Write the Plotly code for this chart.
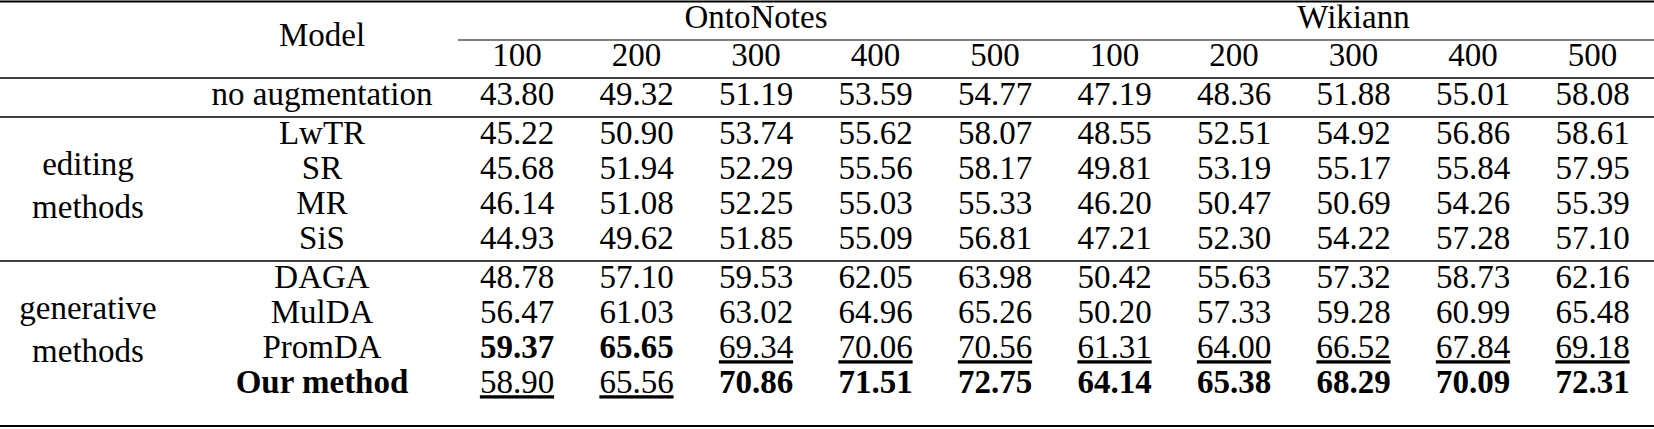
import plotly.graph_objects as go

# column headers
datasets = ["OntoNotes", "Wikiann"]
sizes = ["100", "200", "300", "400", "500"]

# row labels
models = ["no augmentation", "LwTR", "SR", "MR", "SiS",
          "DAGA", "MulDA", "PromDA", "Our method"]
groups = ["editing<br>methods", "generative<br>methods"]

# F1 scores: OntoNotes 100..500, then Wikiann 100..500
no_augmentation = [43.80, 49.32, 51.19, 53.59, 54.77, 47.19, 48.36, 51.88, 55.01, 58.08]
lwtr = [45.22, 50.90, 53.74, 55.62, 58.07, 48.55, 52.51, 54.92, 56.86, 58.61]
sr = [45.68, 51.94, 52.29, 55.56, 58.17, 49.81, 53.19, 55.17, 55.84, 57.95]
mr = [46.14, 51.08, 52.25, 55.03, 55.33, 46.20, 50.47, 50.69, 54.26, 55.39]
sis = [44.93, 49.62, 51.85, 55.09, 56.81, 47.21, 52.30, 54.22, 57.28, 57.10]
daga = [48.78, 57.10, 59.53, 62.05, 63.98, 50.42, 55.63, 57.32, 58.73, 62.16]
mulda = [56.47, 61.03, 63.02, 64.96, 65.26, 50.20, 57.33, 59.28, 60.99, 65.48]
promda = [59.37, 65.65, 69.34, 70.06, 70.56, 61.31, 64.00, 66.52, 67.84, 69.18]
our_method = [58.90, 65.56, 70.86, 71.51, 72.75, 64.14, 65.38, 68.29, 70.09, 72.31]

scores = [no_augmentation, lwtr, sr, mr, sis, daga, mulda, promda, our_method]

# --- layout (pixels) ---
W, H = 1654, 429
FONT = "Liberation Serif"
FS = 33
col_x = [517 + 119.5 * i for i in range(10)]
model_x = 322
group_x = 88
head1_y = 20
model_head_y = 38
head2_y = 58
row_y = [97, 136, 171, 206, 241, 280, 315, 350, 385]
group_y = [188.5, 332.5]
rules = [(1.5, 0, W, 2.2), (40, 458, W, 1.1), (78, 0, W, 1.3),
         (117, 0, W, 1.3), (261, 0, W, 1.3), (426, 0, W, 2.2)]


def fmt_cell(v, col):
    # best per column in bold, runner-up underlined
    ranked = sorted({s[col] for s in scores}, reverse=True)
    txt = "%.2f" % v
    if v == ranked[0]:
        return "<b>" + txt + "</b>"
    if v == ranked[1]:
        return "<u>" + txt + "</u>"
    return txt


fig = go.Figure()

for r, (name, vals) in enumerate(zip(models, scores)):
    label = "<b>" + name + "</b>" if name == "Our method" else name
    fig.add_trace(go.Scatter(
        x=[model_x] + col_x,
        y=[row_y[r]] * (len(col_x) + 1),
        text=[label] + [fmt_cell(v, c) for c, v in enumerate(vals)],
        mode="text",
        textposition="middle center",
        textfont=dict(family=FONT, size=FS, color="black"),
        hoverinfo="skip",
        showlegend=False,
    ))

# headers
fig.add_trace(go.Scatter(
    x=[sum(col_x[:5]) / 5, sum(col_x[5:]) / 5, model_x] + col_x,
    y=[head1_y, head1_y, model_head_y] + [head2_y] * 10,
    text=datasets + ["Model"] + sizes * 2,
    mode="text",
    textposition="middle center",
    textfont=dict(family=FONT, size=FS, color="black"),
    hoverinfo="skip",
    showlegend=False,
))

# group labels
fig.add_trace(go.Scatter(
    x=[group_x] * 2,
    y=group_y,
    text=groups,
    mode="text",
    textposition="middle center",
    textfont=dict(family=FONT, size=FS, color="black"),
    hoverinfo="skip",
    showlegend=False,
))

for y, x0, x1, w in rules:
    fig.add_shape(type="line", xref="x", yref="y", x0=x0, x1=x1, y0=y, y1=y,
                  line=dict(color="black", width=w))

fig.update_layout(
    width=W, height=H,
    margin=dict(l=0, r=0, t=0, b=0),
    plot_bgcolor="white",
    paper_bgcolor="white",
    xaxis=dict(range=[0, W], visible=False, fixedrange=True),
    yaxis=dict(range=[H, 0], visible=False, fixedrange=True),
)

fig.write_html("out.html", config={"displayModeBar": False},
               post_script="document.body.style.margin='0';")
